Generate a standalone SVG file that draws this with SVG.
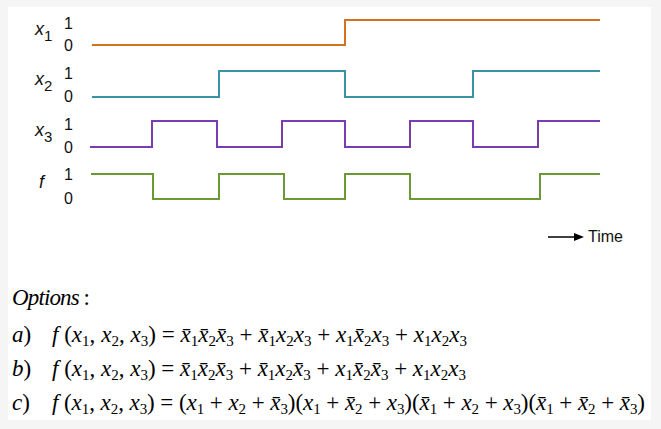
<svg xmlns="http://www.w3.org/2000/svg" width="661" height="429" viewBox="0 0 661 429">
<style>
.w{fill:none;stroke-width:2}
.lab{font-family:"Liberation Sans",Arial,sans-serif;font-size:16px;fill:#111}
.var{font-family:"Liberation Sans",Arial,sans-serif;font-size:18px;font-style:italic;fill:#111}
.eq{font-family:"Liberation Serif","Times New Roman",serif;font-size:23px;font-style:italic;fill:#000}
.up{font-style:normal}
.s{font-style:normal;font-size:15px}
</style>
<rect width="661" height="429" fill="#f5f5f5"/>
<rect x="8" y="7" width="643" height="413" fill="#fff"/>
<g id="x1">
<text class="var" x="35" y="35">x<tspan dy="6" font-size="15" font-style="normal">1</tspan></text>
<text class="lab" x="64" y="29">1</text><text class="lab" x="64" y="51">0</text>
<path class="w" stroke="#d4731f" d="M92 45H345V20H600"/>
</g>
<g id="x2">
<text class="var" x="35" y="85">x<tspan dy="6" font-size="15" font-style="normal">2</tspan></text>
<text class="lab" x="64" y="79">1</text><text class="lab" x="64" y="102">0</text>
<path class="w" stroke="#3a94a8" d="M92 97H219V71H345V97H473V71H600"/>
</g>
<g id="x3">
<text class="var" x="35" y="136">x<tspan dy="6" font-size="15" font-style="normal">3</tspan></text>
<text class="lab" x="64" y="130">1</text><text class="lab" x="64" y="153">0</text>
<path class="w" stroke="#7b3cb0" d="M90 147H152V121H217V147H282V121H345V147H410V121H473V147H538V121H600"/>
</g>
<g id="f">
<text class="var" x="39" y="188">f</text>
<text class="lab" x="64" y="180">1</text><text class="lab" x="64" y="204">0</text>
<path class="w" stroke="#6b9a34" d="M91 174H153V199H219V174H284V199H345V174H410V199H540V174H600"/>
</g>
<g id="time">
<path d="M548 237H574" stroke="#000" stroke-width="1.5"/>
<path d="M574 233L584 237L574 241Z" fill="#000"/>
<text class="lab" x="588" y="242">Time</text>
</g>
<g id="options">
<text class="eq" x="12" y="305" textLength="78" lengthAdjust="spacing">Options<tspan class="up"> :</tspan></text>
<text class="eq" x="12" y="342">a<tspan class="up">)</tspan></text>
<text class="eq" x="52" y="342" textLength="415" lengthAdjust="spacing">f <tspan class="up">(</tspan>x<tspan class="s" dy="4">1</tspan><tspan class="up" dy="-4">, </tspan>x<tspan class="s" dy="4">2</tspan><tspan class="up" dy="-4">, </tspan>x<tspan class="s" dy="4">3</tspan><tspan class="up" dy="-4">) = </tspan>x̄<tspan class="s" dy="4">1</tspan><tspan dy="-4">x̄</tspan><tspan class="s" dy="4">2</tspan><tspan dy="-4">x̄</tspan><tspan class="s" dy="4">3</tspan><tspan class="up" dy="-4"> + </tspan>x̄<tspan class="s" dy="4">1</tspan><tspan dy="-4">x</tspan><tspan class="s" dy="4">2</tspan><tspan dy="-4">x</tspan><tspan class="s" dy="4">3</tspan><tspan class="up" dy="-4"> + </tspan>x<tspan class="s" dy="4">1</tspan><tspan dy="-4">x̄</tspan><tspan class="s" dy="4">2</tspan><tspan dy="-4">x</tspan><tspan class="s" dy="4">3</tspan><tspan class="up" dy="-4"> + </tspan>x<tspan class="s" dy="4">1</tspan><tspan dy="-4">x</tspan><tspan class="s" dy="4">2</tspan><tspan dy="-4">x</tspan><tspan class="s" dy="4">3</tspan></text>
<text class="eq" x="12" y="376">b<tspan class="up">)</tspan></text>
<text class="eq" x="52" y="376" textLength="414" lengthAdjust="spacing">f <tspan class="up">(</tspan>x<tspan class="s" dy="4">1</tspan><tspan class="up" dy="-4">, </tspan>x<tspan class="s" dy="4">2</tspan><tspan class="up" dy="-4">, </tspan>x<tspan class="s" dy="4">3</tspan><tspan class="up" dy="-4">) = </tspan>x̄<tspan class="s" dy="4">1</tspan><tspan dy="-4">x̄</tspan><tspan class="s" dy="4">2</tspan><tspan dy="-4">x̄</tspan><tspan class="s" dy="4">3</tspan><tspan class="up" dy="-4"> + </tspan>x̄<tspan class="s" dy="4">1</tspan><tspan dy="-4">x</tspan><tspan class="s" dy="4">2</tspan><tspan dy="-4">x̄</tspan><tspan class="s" dy="4">3</tspan><tspan class="up" dy="-4"> + </tspan>x<tspan class="s" dy="4">1</tspan><tspan dy="-4">x̄</tspan><tspan class="s" dy="4">2</tspan><tspan dy="-4">x̄</tspan><tspan class="s" dy="4">3</tspan><tspan class="up" dy="-4"> + </tspan>x<tspan class="s" dy="4">1</tspan><tspan dy="-4">x</tspan><tspan class="s" dy="4">2</tspan><tspan dy="-4">x</tspan><tspan class="s" dy="4">3</tspan></text>
<text class="eq" x="12" y="410">c<tspan class="up">)</tspan></text>
<text class="eq" x="52" y="410" textLength="593" lengthAdjust="spacing">f <tspan class="up">(</tspan>x<tspan class="s" dy="4">1</tspan><tspan class="up" dy="-4">, </tspan>x<tspan class="s" dy="4">2</tspan><tspan class="up" dy="-4">, </tspan>x<tspan class="s" dy="4">3</tspan><tspan class="up" dy="-4">) = (</tspan>x<tspan class="s" dy="4">1</tspan><tspan class="up" dy="-4"> + </tspan>x<tspan class="s" dy="4">2</tspan><tspan class="up" dy="-4"> + </tspan>x̄<tspan class="s" dy="4">3</tspan><tspan class="up" dy="-4">)(</tspan>x<tspan class="s" dy="4">1</tspan><tspan class="up" dy="-4"> + </tspan>x̄<tspan class="s" dy="4">2</tspan><tspan class="up" dy="-4"> + </tspan>x<tspan class="s" dy="4">3</tspan><tspan class="up" dy="-4">)(</tspan>x̄<tspan class="s" dy="4">1</tspan><tspan class="up" dy="-4"> + </tspan>x<tspan class="s" dy="4">2</tspan><tspan class="up" dy="-4"> + </tspan>x<tspan class="s" dy="4">3</tspan><tspan class="up" dy="-4">)(</tspan>x̄<tspan class="s" dy="4">1</tspan><tspan class="up" dy="-4"> + </tspan>x̄<tspan class="s" dy="4">2</tspan><tspan class="up" dy="-4"> + </tspan>x̄<tspan class="s" dy="4">3</tspan><tspan class="up" dy="-4">)</tspan></text>
</g>
</svg>
